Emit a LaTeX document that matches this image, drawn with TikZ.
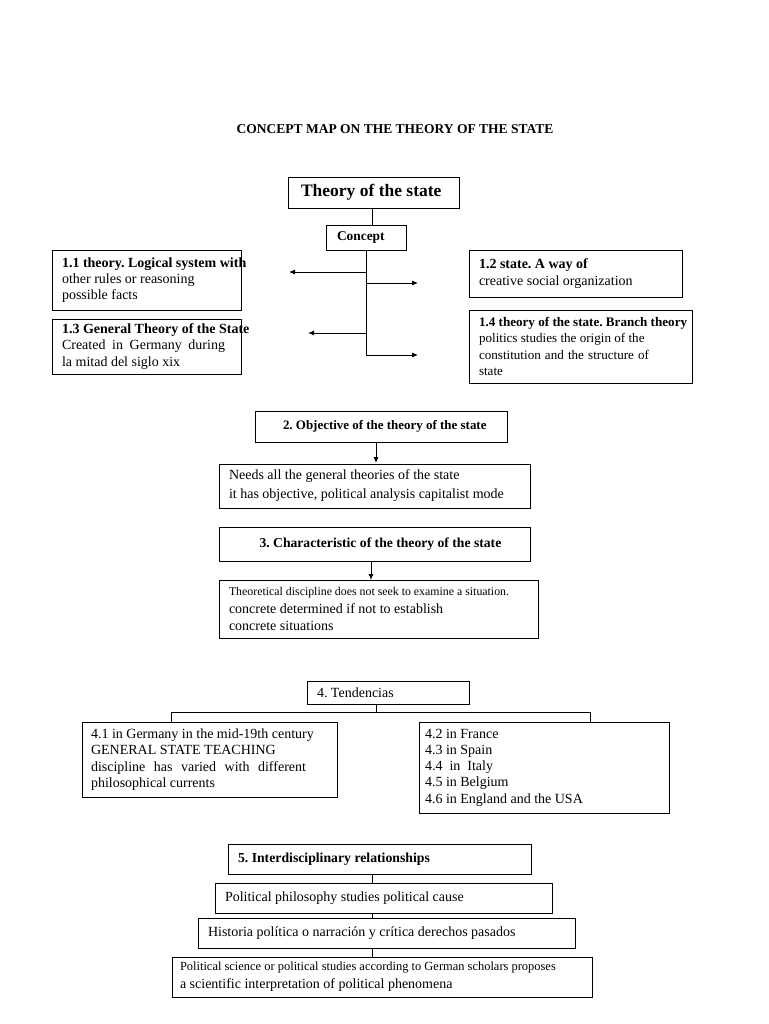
\documentclass[tikz,border=0pt]{standalone}
\usepackage{fontspec}
\setmainfont{Liberation Serif}
\usetikzlibrary{arrows.meta}
\hbadness=10000 \hfuzz=200pt
\newcommand{\jline}[2]{\leavevmode\hbox to #1{#2}}
\tikzset{
  box/.style={draw, line width=0.9pt, inner ysep=0pt, align=flush left, font=\fontsize{14}{16.3}\selectfont},
  conn/.style={line width=0.9pt},
  arr/.style={line width=0.9pt, -{Latex[length=6pt,width=5pt]}}
}
\begin{document}
\frenchspacing
\begin{tikzpicture}[x=1pt,y=-1pt]
\useasboundingbox (0,0) rectangle (768,1024);
% title
\node[font=\fontsize{13.5}{16}\selectfont\bfseries] (title) at (395,129) {CONCEPT MAP ON THE THEORY OF THE STATE};
% top
\node[box, font=\fontsize{17.5}{19}\selectfont\bfseries, minimum width=171pt, minimum height=31pt, text width=151pt, inner xsep=10pt] (theory) at (373.5,192.5) {\hspace*{3pt}Theory of the state};
\node[box, font=\fontsize{13.4}{16}\selectfont\bfseries, minimum width=80pt, minimum height=25pt, text width=66pt, inner xsep=7pt] (concept) at (366,237.5) {\hspace*{4pt}Concept};
\node[box, minimum width=189pt, minimum height=60pt, text width=169pt, inner xsep=10pt] (b11) at (146.5,280) {\mbox{\textbf{1.1 theory. Logical system with}}\\\mbox{other rules or reasoning}\\\mbox{possible facts}};
\node[box, minimum width=189pt, minimum height=55pt, text width=169pt, inner xsep=10pt] (b13) at (146.5,346.5) {\mbox{\textbf{1.3 General Theory of the State}}\\\jline{163pt}{Created\hfill in\hfill Germany\hfill during}\\\mbox{la mitad del siglo xix}};
\node[box, minimum width=213pt, minimum height=47pt, text width=193pt, inner xsep=10pt] (b12) at (575.5,273.5) {\mbox{\textbf{1.2 state. A way of}}\\\mbox{creative social organization}};
\node[box, font=\fontsize{13.1}{16.3}\selectfont, minimum width=223pt, minimum height=73pt, text width=203pt, inner xsep=10pt] (b14) at (580.5,346.5) {\mbox{\textbf{1.4 theory of the state. Branch theory}}\\\mbox{politics studies the origin of the}\\\jline{170pt}{constitution\hfill and\hfill the\hfill structure\hfill of}\\\mbox{state}};
\coordinate (tk1) at (366,355);
\coordinate (aL1) at (289,272);
\coordinate (aL2) at (308,333);
\coordinate (aR1) at (418,283);
\coordinate (aR2) at (418,355);
\draw[conn] ([xshift=-1.5pt]theory.south) -- ([xshift=-1.5pt]theory.south |- concept.north);
\draw[conn] (concept.south) -- (tk1);
\draw[arr] (aL1 -| concept.south) -- (aL1);
\draw[arr] (aL2 -| concept.south) -- (aL2);
\draw[arr] (aR1 -| concept.south) -- (aR1);
\draw[arr] (tk1) -- (aR2);
% section 2 and 3
\node[box, font=\fontsize{12.95}{16}\selectfont\bfseries, minimum width=252pt, minimum height=31pt, text width=224pt, inner xsep=14pt] (b2) at (381,426.5) {\hspace*{14pt}2. Objective of the theory of the state};
\node[box, font=\fontsize{14}{19}\selectfont, minimum width=311pt, minimum height=44pt, text width=291pt, inner xsep=10pt] (needs) at (374.5,486) {\mbox{Needs all the general theories of the state}\\\mbox{it has objective, political analysis capitalist mode}};
\draw[arr] (376,442) -- (376,463);
\node[box, font=\fontsize{13.65}{16}\selectfont\bfseries, minimum width=311pt, minimum height=34pt, text width=270pt, inner xsep=20.5pt] (b3) at (374.5,544) {\mbox{\hspace*{20pt}3. Characteristic of the theory of the state}};
\node[box, font=\fontsize{14}{17.5}\selectfont, minimum width=319pt, minimum height=58pt, text width=299pt, inner xsep=10pt] (theo) at (378.5,609) {\mbox{\fontsize{11.85}{17.5}\selectfont Theoretical discipline does not seek to examine a situation.}\\\mbox{concrete determined if not to establish}\\\mbox{concrete situations}};
\draw[arr] (371,561) -- (371,580);
% section 4
\node[box, minimum width=162pt, minimum height=23pt, text width=146pt, inner xsep=8pt] (b4) at (388,692.5) {\hspace*{2pt}4. Tendencias};
\node[box, minimum width=255pt, minimum height=75pt, text width=237pt, inner xsep=9pt] (b41) at (209.5,759.5) {\mbox{4.1 in Germany in the mid-19th century}\\\mbox{GENERAL STATE TEACHING}\\\jline{215pt}{discipline\hfill has\hfill varied\hfill with\hfill different}\\\mbox{philosophical currents}};
\node[box, minimum width=250pt, minimum height=91pt, text width=238pt, inner xsep=6pt] (b42) at (544,767.5) {4.2 in France\\4.3 in Spain\\4.4 \ in \ Italy\\4.5 in Belgium\\4.6 in England and the USA};
\coordinate (hb) at (376,712);
\draw[conn] (376,704) -- (hb);
\draw[conn] (171,722) -- (171,712) -- (590,712) -- (590,722);
% section 5
\node[box, font=\fontsize{13.75}{16}\selectfont\bfseries, minimum width=303pt, minimum height=30pt, text width=283pt, inner xsep=10pt] (b5) at (379.5,859) {5. Interdisciplinary relationships};
\node[box, minimum width=337pt, minimum height=30pt, text width=317pt, inner xsep=10pt] (pp) at (383.5,898) {Political philosophy studies political cause};
\node[box, minimum width=377pt, minimum height=30pt, text width=357pt, inner xsep=10pt] (hp) at (386.5,933) {Historia política o narración y crítica derechos pasados};
\node[box, font=\fontsize{14}{18}\selectfont, minimum width=420pt, minimum height=40pt, text width=404pt, inner xsep=8pt] (ps) at (382,977) {\mbox{\fontsize{12.45}{18}\selectfont Political science or political studies according to German scholars proposes}\\\mbox{a scientific interpretation of political phenomena}};
\draw[conn] (372,874) -- (372,883);
\draw[conn] (372,913) -- (372,918);
\draw[conn] (372,948) -- (372,957);
\end{tikzpicture}
\end{document}
